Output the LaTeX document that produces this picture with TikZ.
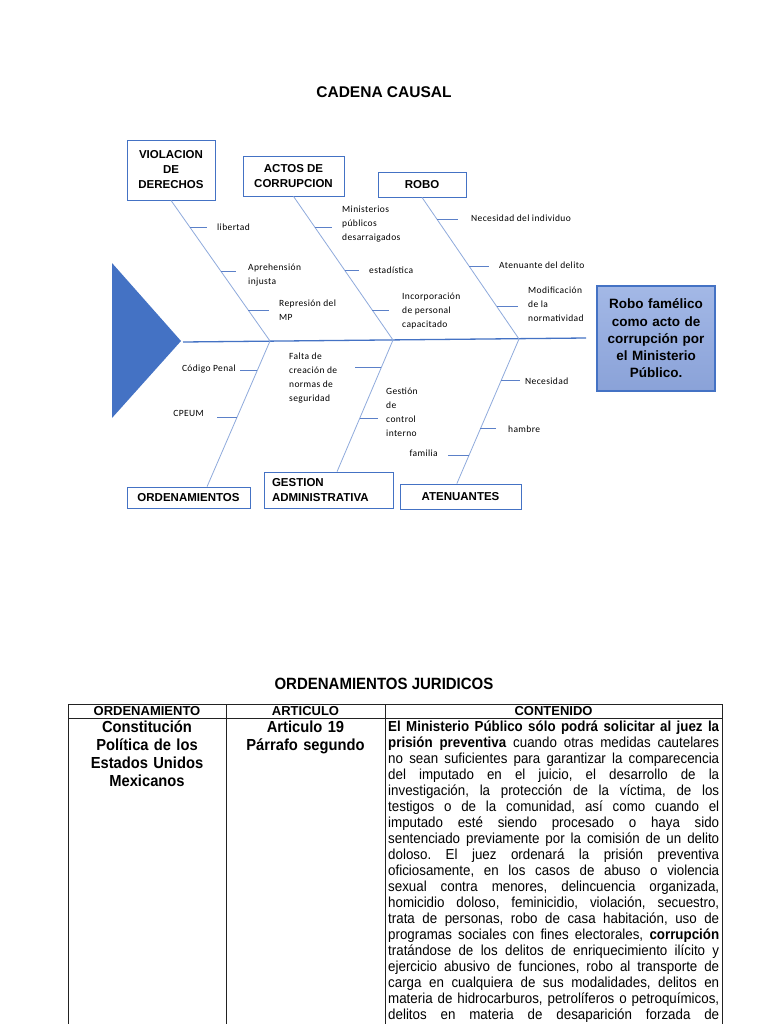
\documentclass[tikz,border=0pt]{standalone}
\usepackage{fontspec}
\setmainfont{Liberation Sans}
\newfontfamily\narrowfont[FakeStretch=0.92]{Liberation Sans}
\newfontfamily\twigfont[LetterSpace=4]{Carlito}
\usepackage{tikz}
\usetikzlibrary{positioning,calc}
\definecolor{spineblue}{HTML}{4472C4}
\definecolor{bonelight}{HTML}{8FAADC}
\definecolor{twigblue}{HTML}{5B80C8}
\definecolor{effecttop}{HTML}{A3B8E6}
\definecolor{effectbot}{HTML}{8AA2D8}
\definecolor{rule}{HTML}{222222}
\frenchspacing

\begin{document}
\begin{tikzpicture}[x=1pt, y=-1pt,
  cause/.style={draw=spineblue, line width=0.8pt, fill=white, align=center, inner sep=2pt, font=\bfseries\fontsize{11.5}{15}\selectfont},
  bone/.style={draw=bonelight, line width=0.8pt},
  twig/.style={draw=twigblue, line width=0.9pt, shorten >=#1},
  twig/.default=10pt,
  lbl/.style={inner sep=0pt, align=left, font=\twigfont\fontsize{9.5}{14}\selectfont},
  cell/.style={inner sep=0pt, font=\bfseries\fontsize{13}{15}\selectfont}
]
  \fill[white] (0,0) rectangle (768,1024);
  \useasboundingbox (0,0) rectangle (768,1024);
  \clip (0,0) rectangle (768,1024);

  % cadena causal
  \node[font=\bfseries\fontsize{15.5}{18}\selectfont] (titulo) at (384,92) {CADENA CAUSAL};

  \fill[spineblue] (112,263) -- (181,341) -- (112,418) -- cycle;
  \coordinate (tip) at (183,342);
  \coordinate (cola) at (586,338);

  \node[cause, minimum width=88pt, minimum height=60pt] (violacion) at (171,170) {VIOLACION\\DE\\DERECHOS};
  \node[cause, minimum width=101pt, minimum height=40pt] (actos) at (293.5,176) {ACTOS DE\\CORRUPCION};
  \node[cause, minimum width=88pt, minimum height=25pt] (robo) at (422,184.5) {ROBO};
  \node[cause, minimum width=123pt, minimum height=21pt] (ordenam) at (188.5,497.5) {ORDENAMIENTOS};
  \node[cause, text width=113pt, inner xsep=8pt, minimum height=36pt, align=left] (gestion) at (328.5,490) {GESTION\\ADMINISTRATIVA};
  \node[cause, minimum width=121pt, minimum height=25pt] (atenuantes) at (460.5,496.5) {ATENUANTES};

  \node[draw=spineblue, line width=1.2pt, top color=effecttop, bottom color=effectbot,
        minimum width=118pt, minimum height=105pt, text width=112pt, align=center, inner sep=3pt,
        font=\bfseries\fontsize{13.5}{17.3}\selectfont] (efecto) at (656,338.5)
        {Robo famélico\\como acto de\\corrupción por\\el Ministerio\\Público.};

  % espina y huesos
  \draw[spineblue, line width=1.3pt] (tip) -- (cola);
  \coordinate (s1) at (270,341);
  \coordinate (s2) at (393,340);
  \coordinate (s3) at (519,339);
  \coordinate (o0) at ($(ordenam.north west)!0.65!(ordenam.north east)$);
  \coordinate (g0) at ($(gestion.north west)!0.566!(gestion.north east)$);
  \coordinate (a0) at ($(atenuantes.north west)!0.47!(atenuantes.north east)$);
  \draw[bone] (violacion.south) -- (s1);
  \draw[bone] (actos.south) -- (s2);
  \draw[bone] (robo.south) -- (s3);
  \draw[bone] (o0) -- (s1);
  \draw[bone] (g0) -- (s2);
  \draw[bone] (a0) -- (s3);

  % subcausas
  \node[lbl, anchor=west] (libertad) at (217,227) {libertad};
  \node[lbl, anchor=west] (aprehension) at (248,275) {Aprehensión\\injusta};
  \node[lbl, anchor=west] (represion) at (279,310) {Represión del\\MP};
  \node[lbl, anchor=west] (ministerios) at (342,224) {Ministerios\\públicos\\desarraigados};
  \node[lbl, anchor=west] (estadistica) at (369,270) {estadística};
  \node[lbl, anchor=west] (incorporacion) at (402,311) {Incorporación\\de personal\\capacitado};
  \node[lbl, anchor=west] (necindividuo) at (471,218) {Necesidad del individuo};
  \node[lbl, anchor=west] (atenuante) at (499,265) {Atenuante del delito};
  \node[lbl, anchor=west] (modificacion) at (528,304) {Modificación\\de la\\normatividad};
  \node[lbl, anchor=east] (codigo) at (236,369) {Código Penal};
  \node[lbl, anchor=east] (cpeum) at (204,413) {CPEUM};
  \node[lbl, anchor=west] (falta) at (289,378.5) {Falta de\\creación de\\normas de\\seguridad};
  \node[lbl, anchor=west] (control) at (386,412) {Gestión\\de\\control\\interno};
  \node[lbl, anchor=west] (necesidad) at (525,381) {Necesidad};
  \node[lbl, anchor=west] (hambre) at (508,429) {hambre};
  \node[lbl, anchor=east] (familia) at (438,453) {familia};

  \coordinate (v1) at ($(violacion.south)!0.191!(s1)$);
  \coordinate (v2) at ($(violacion.south)!0.504!(s1)$);
  \coordinate (v3) at ($(violacion.south)!0.780!(s1)$);
  \coordinate (c1) at ($(actos.south)!0.215!(s2)$);
  \coordinate (c2) at ($(actos.south)!0.514!(s2)$);
  \coordinate (c3) at ($(actos.south)!0.792!(s2)$);
  \coordinate (r1) at ($(robo.south)!0.155!(s3)$);
  \coordinate (r2) at ($(robo.south)!0.486!(s3)$);
  \coordinate (r3) at ($(robo.south)!0.768!(s3)$);
  \coordinate (o1) at ($(s1)!0.205!(o0)$);
  \coordinate (o2) at ($(s1)!0.527!(o0)$);
  \coordinate (g1) at ($(s2)!0.212!(g0)$);
  \coordinate (g2) at ($(s2)!0.598!(g0)$);
  \coordinate (a1) at ($(s3)!0.290!(a0)$);
  \coordinate (a2) at ($(s3)!0.621!(a0)$);
  \coordinate (a3) at ($(s3)!0.807!(a0)$);

  \draw[twig] (v1) -- (v1 -| libertad.west);
  \draw[twig=12pt] (v2) -- (v2 -| aprehension.west);
  \draw[twig] (v3) -- (v3 -| represion.west);
  \draw[twig] (c1) -- (c1 -| ministerios.west);
  \draw[twig] (c2) -- (c2 -| estadistica.west);
  \draw[twig=13pt] (c3) -- (c3 -| incorporacion.west);
  \draw[twig=13pt] (r1) -- (r1 -| necindividuo.west);
  \draw[twig] (r2) -- (r2 -| atenuante.west);
  \draw[twig] (r3) -- (r3 -| modificacion.west);
  \draw[twig=4pt] (o1) -- (o1 -| codigo.east);
  \draw[twig=13pt] (o2) -- (o2 -| cpeum.east);
  \draw[twig=18pt] (g1) -- (g1 -| falta.east);
  \draw[twig=8pt] (g2) -- (g2 -| control.west);
  \draw[twig=5pt] (a1) -- (a1 -| necesidad.west);
  \draw[twig=12pt] (a2) -- (a2 -| hambre.west);
  \draw[twig] (a3) -- (a3 -| familia.east);

  % ordenamientos juridicos
  \node[font=\narrowfont\bfseries\fontsize{16.3}{19}\selectfont] (juridicos) at (384,684) {ORDENAMIENTOS JURIDICOS};
  \draw[rule, line width=0.9pt] (68,704) -- (722,704);
  \draw[rule, line width=0.9pt] (68,718) -- (722,718);
  \draw[rule, line width=0.9pt] (68,704) -- (68,1024);
  \draw[rule, line width=0.9pt] (226,704) -- (226,1024);
  \draw[rule, line width=0.9pt] (385,704) -- (385,1024);
  \draw[rule, line width=0.9pt] (722,704) -- (722,1024);

  \node[cell] (hordenamiento) at (147,711.5) {ORDENAMIENTO};
  \node[cell] (harticulo) at (305.5,711.5) {ARTICULO};
  \node[cell] (hcontenido) at (553.5,711.5) {CONTENIDO};

  \node[anchor=north, text width=150pt, align=center, inner sep=2pt,
        font=\narrowfont\bfseries\fontsize{16}{18}\selectfont] (constitucion) at (147,719)
        {Constitución\\Política de los\\Estados Unidos\\Mexicanos};
  \node[anchor=north, text width=150pt, align=center, inner sep=2pt,
        font=\narrowfont\bfseries\fontsize{16}{18}\selectfont] (articulo) at (305.5,719)
        {Articulo 19\\Párrafo segundo};
  \node[anchor=north west, text width=331pt, inner xsep=3pt, inner ysep=1.5pt, align=justify,
        font=\narrowfont\fontsize{14.5}{16}\selectfont] (contenido) at (385,719)
        {\textbf{El Ministerio Público sólo podrá solicitar al juez la}\linebreak
         \textbf{prisión preventiva} cuando otras medidas cautelares\linebreak
         no sean suficientes para garantizar la comparecencia\linebreak
         del imputado en el juicio, el desarrollo de la\linebreak
         investigación, la protección de la víctima, de los\linebreak
         testigos o de la comunidad, así como cuando el\linebreak
         imputado esté siendo procesado o haya sido\linebreak
         sentenciado previamente por la comisión de un delito\linebreak
         doloso. El juez ordenará la prisión preventiva\linebreak
         oficiosamente, en los casos de abuso o violencia\linebreak
         sexual contra menores, delincuencia organizada,\linebreak
         homicidio doloso, feminicidio, violación, secuestro,\linebreak
         trata de personas, robo de casa habitación, uso de\linebreak
         programas sociales con fines electorales, \textbf{corrupción}\linebreak
         tratándose de los delitos de enriquecimiento ilícito y\linebreak
         ejercicio abusivo de funciones, robo al transporte de\linebreak
         carga en cualquiera de sus modalidades, delitos en\linebreak
         materia de hidrocarburos, petrolíferos o petroquímicos,\linebreak
         delitos en materia de desaparición forzada de\linebreak
         personas y desaparición cometida por particulares,};
\end{tikzpicture}
\end{document}
